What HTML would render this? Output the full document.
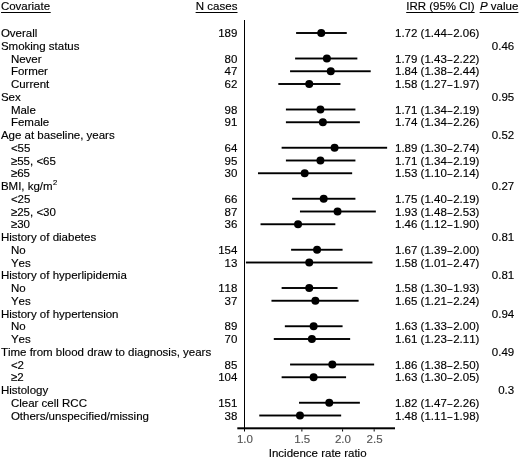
<!DOCTYPE html>
<html><head><meta charset="utf-8"><title>Forest plot</title>
<style>
html,body{margin:0;padding:0;background:#fff;}
text{font-kerning:none;}
body{width:520px;height:458px;overflow:hidden;}
svg{display:block;}
text{font-family:"Liberation Sans",Arial,Helvetica,sans-serif;font-size:11.5px;fill:#000;stroke:#000;stroke-width:0.15px;}
.t{stroke:#555;}
.e{text-anchor:end;}
.m{text-anchor:middle;}
.t{fill:#555;}
</style></head><body>
<svg width="520" height="458" viewBox="0 0 520 458">

<text x="0.9" y="10.0">Covariate</text>
<text class="e" x="237.4" y="10.0">N cases</text>
<text x="406.2" y="10.0">IRR (95% CI)</text>
<text x="480.0" y="10.0"><tspan font-style="italic">P</tspan> value</text>
<rect x="1.05" y="12" width="49.65" height="1" fill="#000"/>
<rect x="195.6" y="12" width="41.90" height="1" fill="#000"/>
<rect x="406.2" y="12" width="68.40" height="1" fill="#000"/>
<rect x="479.6" y="12" width="38.80" height="1" fill="#000"/>
<rect x="244.0" y="20.0" width="1" height="411.5" fill="#000"/>
<rect x="237.3" y="427.3" width="157.7" height="2.0" fill="#000"/>
<rect x="301.37" y="429.30" width="1" height="2.20" fill="#000"/>
<rect x="342.08" y="429.30" width="1" height="2.20" fill="#000"/>
<rect x="373.66" y="429.30" width="1" height="2.20" fill="#000"/>
<text class="m t" x="244.90" y="442.6" font-size="11.0">1.0</text>
<text class="m t" x="302.27" y="442.6" font-size="11.0">1.5</text>
<text class="m t" x="342.98" y="442.6" font-size="11.0">2.0</text>
<text class="m t" x="374.56" y="442.6" font-size="11.0">2.5</text>
<text class="m" x="317.65" y="456.6" font-size="11.7">Incidence rate ratio</text>
<text x="0.9" y="37.10" font-size="11.6">Overall</text>
<text class="e" x="237.4" y="37.10">189</text>
<text x="395.0" y="37.10">1.72 (1.44</text><text class="m" x="0" y="37.10" transform="translate(449.787 0) scale(0.75 1)">–</text><text x="453.185" y="37.10">2.06)</text>
<rect x="296.10" y="32.05" width="50.67" height="1.9" fill="#000"/>
<circle cx="321.24" cy="33.00" r="4.0" fill="#000"/>
<text x="0.9" y="49.85" font-size="11.6">Smoking status</text>
<text class="e" x="514.2" y="49.85">0.46</text>
<text x="10.9" y="62.60" font-size="11.6">Never</text>
<text class="e" x="237.4" y="62.60">80</text>
<text x="395.0" y="62.60">1.79 (1.43</text><text class="m" x="0" y="62.60" transform="translate(449.787 0) scale(0.75 1)">–</text><text x="453.185" y="62.60">2.22)</text>
<rect x="295.11" y="57.55" width="62.24" height="1.9" fill="#000"/>
<circle cx="326.88" cy="58.50" r="4.0" fill="#000"/>
<text x="10.9" y="75.35" font-size="11.6">Former</text>
<text class="e" x="237.4" y="75.35">47</text>
<text x="395.0" y="75.35">1.84 (1.38</text><text class="m" x="0" y="75.35" transform="translate(449.787 0) scale(0.75 1)">–</text><text x="453.185" y="75.35">2.44)</text>
<rect x="290.07" y="70.30" width="80.64" height="1.9" fill="#000"/>
<circle cx="330.78" cy="71.25" r="4.0" fill="#000"/>
<text x="10.9" y="88.10" font-size="11.6">Current</text>
<text class="e" x="237.4" y="88.10">62</text>
<text x="395.0" y="88.10">1.58 (1.27</text><text class="m" x="0" y="88.10" transform="translate(449.787 0) scale(0.75 1)">–</text><text x="453.185" y="88.10">1.97)</text>
<rect x="278.32" y="83.05" width="62.12" height="1.9" fill="#000"/>
<circle cx="309.23" cy="84.00" r="4.0" fill="#000"/>
<text x="0.9" y="100.85" font-size="11.6">Sex</text>
<text class="e" x="514.2" y="100.85">0.95</text>
<text x="10.9" y="113.60" font-size="11.6">Male</text>
<text class="e" x="237.4" y="113.60">98</text>
<text x="395.0" y="113.60">1.71 (1.34</text><text class="m" x="0" y="113.60" transform="translate(449.787 0) scale(0.75 1)">–</text><text x="453.185" y="113.60">2.19)</text>
<rect x="285.91" y="108.55" width="69.51" height="1.9" fill="#000"/>
<circle cx="320.41" cy="109.50" r="4.0" fill="#000"/>
<text x="10.9" y="126.35" font-size="11.6">Female</text>
<text class="e" x="237.4" y="126.35">91</text>
<text x="395.0" y="126.35">1.74 (1.34</text><text class="m" x="0" y="126.35" transform="translate(449.787 0) scale(0.75 1)">–</text><text x="453.185" y="126.35">2.26)</text>
<rect x="285.91" y="121.30" width="73.96" height="1.9" fill="#000"/>
<circle cx="322.87" cy="122.25" r="4.0" fill="#000"/>
<text x="0.9" y="139.10" font-size="11.6">Age at baseline, years</text>
<text class="e" x="514.2" y="139.10">0.52</text>
<text x="10.9" y="151.85" font-size="11.6">&lt;55</text>
<text class="e" x="237.4" y="151.85">64</text>
<text x="395.0" y="151.85">1.89 (1.30</text><text class="m" x="0" y="151.85" transform="translate(449.787 0) scale(0.75 1)">–</text><text x="453.185" y="151.85">2.74)</text>
<rect x="281.62" y="146.80" width="105.50" height="1.9" fill="#000"/>
<circle cx="334.58" cy="147.75" r="4.0" fill="#000"/>
<text x="10.9" y="164.60" font-size="11.6">≥55, &lt;65</text>
<text class="e" x="237.4" y="164.60">95</text>
<text x="395.0" y="164.60">1.71 (1.34</text><text class="m" x="0" y="164.60" transform="translate(449.787 0) scale(0.75 1)">–</text><text x="453.185" y="164.60">2.19)</text>
<rect x="285.91" y="159.55" width="69.51" height="1.9" fill="#000"/>
<circle cx="320.41" cy="160.50" r="4.0" fill="#000"/>
<text x="10.9" y="177.35" font-size="11.6">≥65</text>
<text class="e" x="237.4" y="177.35">30</text>
<text x="395.0" y="177.35">1.53 (1.10</text><text class="m" x="0" y="177.35" transform="translate(449.787 0) scale(0.75 1)">–</text><text x="453.185" y="177.35">2.14)</text>
<rect x="257.99" y="172.30" width="94.17" height="1.9" fill="#000"/>
<circle cx="304.68" cy="173.25" r="4.0" fill="#000"/>
<text x="0.9" y="190.10" font-size="11.6">BMI, kg/m<tspan dx="0.4" dy="-5.4" font-size="7.6">2</tspan></text>
<text class="e" x="514.2" y="190.10">0.27</text>
<text x="10.9" y="202.85" font-size="11.6">&lt;25</text>
<text class="e" x="237.4" y="202.85">66</text>
<text x="395.0" y="202.85">1.75 (1.40</text><text class="m" x="0" y="202.85" transform="translate(449.787 0) scale(0.75 1)">–</text><text x="453.185" y="202.85">2.19)</text>
<rect x="292.11" y="197.80" width="63.31" height="1.9" fill="#000"/>
<circle cx="323.69" cy="198.75" r="4.0" fill="#000"/>
<text x="10.9" y="215.60" font-size="11.6">≥25, &lt;30</text>
<text class="e" x="237.4" y="215.60">87</text>
<text x="395.0" y="215.60">1.93 (1.48</text><text class="m" x="0" y="215.60" transform="translate(449.787 0) scale(0.75 1)">–</text><text x="453.185" y="215.60">2.53)</text>
<rect x="299.97" y="210.55" width="75.87" height="1.9" fill="#000"/>
<circle cx="337.54" cy="211.50" r="4.0" fill="#000"/>
<text x="10.9" y="228.35" font-size="11.6">≥30</text>
<text class="e" x="237.4" y="228.35">36</text>
<text x="395.0" y="228.35">1.46 (1.12</text><text class="m" x="0" y="228.35" transform="translate(449.787 0) scale(0.75 1)">–</text><text x="453.185" y="228.35">1.90)</text>
<rect x="260.54" y="223.30" width="74.79" height="1.9" fill="#000"/>
<circle cx="298.05" cy="224.25" r="4.0" fill="#000"/>
<text x="0.9" y="241.10" font-size="11.6">History of diabetes</text>
<text class="e" x="514.2" y="241.10">0.81</text>
<text x="10.9" y="253.85" font-size="11.6">No</text>
<text class="e" x="237.4" y="253.85">154</text>
<text x="395.0" y="253.85">1.67 (1.39</text><text class="m" x="0" y="253.85" transform="translate(449.787 0) scale(0.75 1)">–</text><text x="453.185" y="253.85">2.00)</text>
<rect x="291.10" y="248.80" width="51.48" height="1.9" fill="#000"/>
<circle cx="317.06" cy="249.75" r="4.0" fill="#000"/>
<text x="10.9" y="266.60" font-size="11.6">Yes</text>
<text class="e" x="237.4" y="266.60">13</text>
<text x="395.0" y="266.60">1.58 (1.01</text><text class="m" x="0" y="266.60" transform="translate(449.787 0) scale(0.75 1)">–</text><text x="453.185" y="266.60">2.47)</text>
<rect x="245.91" y="261.55" width="126.54" height="1.9" fill="#000"/>
<circle cx="309.23" cy="262.50" r="4.0" fill="#000"/>
<text x="0.9" y="279.35" font-size="11.6">History of hyperlipidemia</text>
<text class="e" x="514.2" y="279.35">0.81</text>
<text x="10.9" y="292.10" font-size="11.6">No</text>
<text class="e" x="237.4" y="292.10">118</text>
<text x="395.0" y="292.10">1.58 (1.30</text><text class="m" x="0" y="292.10" transform="translate(449.787 0) scale(0.75 1)">–</text><text x="453.185" y="292.10">1.93)</text>
<rect x="281.62" y="287.05" width="55.91" height="1.9" fill="#000"/>
<circle cx="309.23" cy="288.00" r="4.0" fill="#000"/>
<text x="10.9" y="304.85" font-size="11.6">Yes</text>
<text class="e" x="237.4" y="304.85">37</text>
<text x="395.0" y="304.85">1.65 (1.21</text><text class="m" x="0" y="304.85" transform="translate(449.787 0) scale(0.75 1)">–</text><text x="453.185" y="304.85">2.24)</text>
<rect x="271.47" y="299.80" width="87.14" height="1.9" fill="#000"/>
<circle cx="315.36" cy="300.75" r="4.0" fill="#000"/>
<text x="0.9" y="317.60" font-size="11.6">History of hypertension</text>
<text class="e" x="514.2" y="317.60">0.94</text>
<text x="10.9" y="330.35" font-size="11.6">No</text>
<text class="e" x="237.4" y="330.35">89</text>
<text x="395.0" y="330.35">1.63 (1.33</text><text class="m" x="0" y="330.35" transform="translate(449.787 0) scale(0.75 1)">–</text><text x="453.185" y="330.35">2.00)</text>
<rect x="284.85" y="325.30" width="57.73" height="1.9" fill="#000"/>
<circle cx="313.63" cy="326.25" r="4.0" fill="#000"/>
<text x="10.9" y="343.10" font-size="11.6">Yes</text>
<text class="e" x="237.4" y="343.10">70</text>
<text x="395.0" y="343.10">1.61 (1.23</text><text class="m" x="0" y="343.10" transform="translate(449.787 0) scale(0.75 1)">–</text><text x="453.185" y="343.10">2.11)</text>
<rect x="273.79" y="338.05" width="76.36" height="1.9" fill="#000"/>
<circle cx="311.89" cy="339.00" r="4.0" fill="#000"/>
<text x="0.9" y="355.85" font-size="11.6">Time from blood draw to diagnosis, years</text>
<text class="e" x="514.2" y="355.85">0.49</text>
<text x="10.9" y="368.60" font-size="11.6">&lt;2</text>
<text class="e" x="237.4" y="368.60">85</text>
<text x="395.0" y="368.60">1.86 (1.38</text><text class="m" x="0" y="368.60" transform="translate(449.787 0) scale(0.75 1)">–</text><text x="453.185" y="368.60">2.50)</text>
<rect x="290.07" y="363.55" width="84.08" height="1.9" fill="#000"/>
<circle cx="332.31" cy="364.50" r="4.0" fill="#000"/>
<text x="10.9" y="381.35" font-size="11.6">≥2</text>
<text class="e" x="237.4" y="381.35">104</text>
<text x="395.0" y="381.35">1.63 (1.30</text><text class="m" x="0" y="381.35" transform="translate(449.787 0) scale(0.75 1)">–</text><text x="453.185" y="381.35">2.05)</text>
<rect x="281.62" y="376.30" width="64.45" height="1.9" fill="#000"/>
<circle cx="313.63" cy="377.25" r="4.0" fill="#000"/>
<text x="0.9" y="394.10" font-size="11.6">Histology</text>
<text class="e" x="514.2" y="394.10">0.3</text>
<text x="10.9" y="406.85" font-size="11.6">Clear cell RCC</text>
<text class="e" x="237.4" y="406.85">151</text>
<text x="395.0" y="406.85">1.82 (1.47</text><text class="m" x="0" y="406.85" transform="translate(449.787 0) scale(0.75 1)">–</text><text x="453.185" y="406.85">2.26)</text>
<rect x="299.01" y="401.80" width="60.86" height="1.9" fill="#000"/>
<circle cx="329.24" cy="402.75" r="4.0" fill="#000"/>
<text x="10.9" y="419.60" font-size="11.6">Others/unspecified/missing</text>
<text class="e" x="237.4" y="419.60">38</text>
<text x="395.0" y="419.60">1.48 (1.11</text><text class="m" x="0" y="419.60" transform="translate(449.787 0) scale(0.75 1)">–</text><text x="453.185" y="419.60">1.98)</text>
<rect x="259.27" y="414.55" width="81.89" height="1.9" fill="#000"/>
<circle cx="299.97" cy="415.50" r="4.0" fill="#000"/>
</svg></body></html>
